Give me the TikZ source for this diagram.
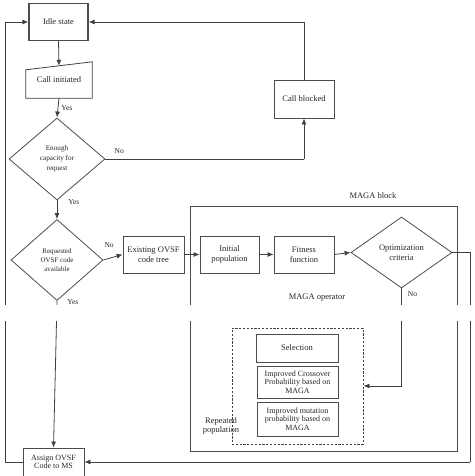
\documentclass[tikz,border=0pt]{standalone}
\usepackage{fontspec}
\setmainfont{Liberation Serif}
\usetikzlibrary{arrows.meta,positioning,shapes.geometric,calc}

\begin{document}
\begin{tikzpicture}[x=1pt,y=-1pt,
      box_st/.style={
         rectangle,
         draw=black!70,
         line width=0.8pt,
         inner sep=0pt,
         align=center,
         text=black!85,
         font=\fontsize{8.5}{10}\selectfont},
      diam_st/.style={
         diamond,
         draw=black!70,
         line width=0.8pt,
         inner sep=0pt,
         text=black!85,
         align=center},
      arrow_black/.style={
         -{Latex[length=6pt,width=5pt]},
         draw=black!75,
         line width=0.8pt},
      line_plain/.style={
         draw=black!75,
         line width=0.8pt},
      lbl_st/.style={
         font=\fontsize{7.5}{9}\selectfont,
         text=black!85,
         inner sep=1pt}
]
      \useasboundingbox (0,0) rectangle (474,476);

      %main column
      \node[box_st,line width=1.2pt,minimum width=59,minimum height=37] (idle) at (58.5,22) {Idle state};
      \node[inner sep=0pt,minimum width=66,minimum height=36,text=black!85,font=\fontsize{8.5}{10}\selectfont] (init) at (59,80) {\raisebox{-3pt}{Call initiated}};
      \draw[line_plain] (init.south west) -- (init.south east) -- (init.north east) -- ($(init.north west)+(0,8)$) -- cycle;
      \node[diam_st,shape aspect=1.17,minimum width=96,minimum height=82,font=\fontsize{7.2}{10}\selectfont] (cap) at (57,159) {Enough\\capacity for\\request};
      \node[diam_st,shape aspect=1.14,minimum width=92,minimum height=81,font=\fontsize{7}{9}\selectfont] (avail) at (57,260) {Requested\\OVSF code\\available};
      \node[box_st,minimum width=61,minimum height=28,font=\fontsize{8}{8.5}\selectfont] (assign) at (53.5,462) {Assign OVSF\\Code to MS};

      %blocked branch
      \node[box_st,minimum width=60,minimum height=38] (blocked) at (304,99) {Call blocked};

      %MAGA block
      \node[draw=black!70,line width=0.8pt,minimum width=267,minimum height=245] (block) at (323.5,328.5) {};
      \node[text=black!85,font=\fontsize{8.5}{10}\selectfont] at (373,196) {MAGA block};
      \node[text=black!85,font=\fontsize{8.5}{10}\selectfont] at (317,298) {MAGA operator};

      \node[box_st,minimum width=61,minimum height=37] (tree) at (153.5,254.5) {Existing OVSF\\code tree};
      \node[box_st,minimum width=59,minimum height=37] (initpop) at (229.5,254.5) {Initial\\population};
      \node[box_st,minimum width=60,minimum height=37] (fit) at (304,254.5) {Fitness\\function};
      \node[diam_st,shape aspect=1.42,minimum width=101,minimum height=71,font=\fontsize{8.5}{10}\selectfont] (opt) at (401.5,252.5) {Optimization\\criteria};

      %MAGA operator
      \node[draw=black!75,line width=0.9pt,dash pattern=on 2.2pt off 1.6pt,minimum width=131,minimum height=116] (ops) at (297.5,386) {};
      \node[box_st,minimum width=82,minimum height=28] (sel) at (297,348) {Selection};
      \node[box_st,minimum width=81,minimum height=32,font=\fontsize{8}{8.5}\selectfont] (cross) at (297.5,382) {Improved Crossover\\Probability based on\\MAGA};
      \node[box_st,minimum width=81,minimum height=34,font=\fontsize{8}{8.5}\selectfont] (mut) at (297.5,419) {Improved mutation\\probability based on\\MAGA};
      \node[text=black!85,font=\fontsize{8.5}{9}\selectfont,align=center] (rep) at (221,426) {Repeated\\population};

      \coordinate (lf) at (5,462);
      \coordinate (rt) at (470,462);

      %connectors
      \draw[arrow_black] (idle.south) -- ($(init.north)+(0,4)$);
      \draw[arrow_black] (init.south) -- node[lbl_st,right=2pt] {Yes} (cap.north);
      \draw[arrow_black] (cap.south) -- node[lbl_st,pos=0.1,right=10pt] {Yes} (avail.north);
      \draw[line_plain] (cap.east) -- node[lbl_st,pos=0.04,above right=4pt and 0pt] {No} (blocked.south |- cap.east);
      \draw[arrow_black] (blocked.south |- cap.east) -- (blocked.south);
      \draw[arrow_black] (blocked.north) |- (idle.east);
      \draw[arrow_black] (avail.east) -- node[lbl_st,pos=0.3,above=9pt] {No} (tree.west);
      \draw[arrow_black] (avail.south) -- node[lbl_st,pos=0.01,right=9pt] {Yes} (assign.north);

      \foreach \i/\j in {tree/initpop, initpop/fit, fit/opt}
        \draw[arrow_black] (\i.east) -- (\j.west);

      \draw[arrow_black] (opt.south) -- node[lbl_st,pos=0.06,right=5pt] {No} (opt.south |- ops.east) -- (ops.east);
      \draw[line_plain] (opt.east) -- (rt |- opt.east) -- (rt);
      \draw[arrow_black] (rt) -- (assign.east);
      \draw[line_plain] (assign.west) -- (lf);
      \draw[arrow_black] (lf) |- (idle.west);

      %cut in the page
      \fill[white] (0,305) rectangle (474,321);
\end{tikzpicture}
\end{document}
